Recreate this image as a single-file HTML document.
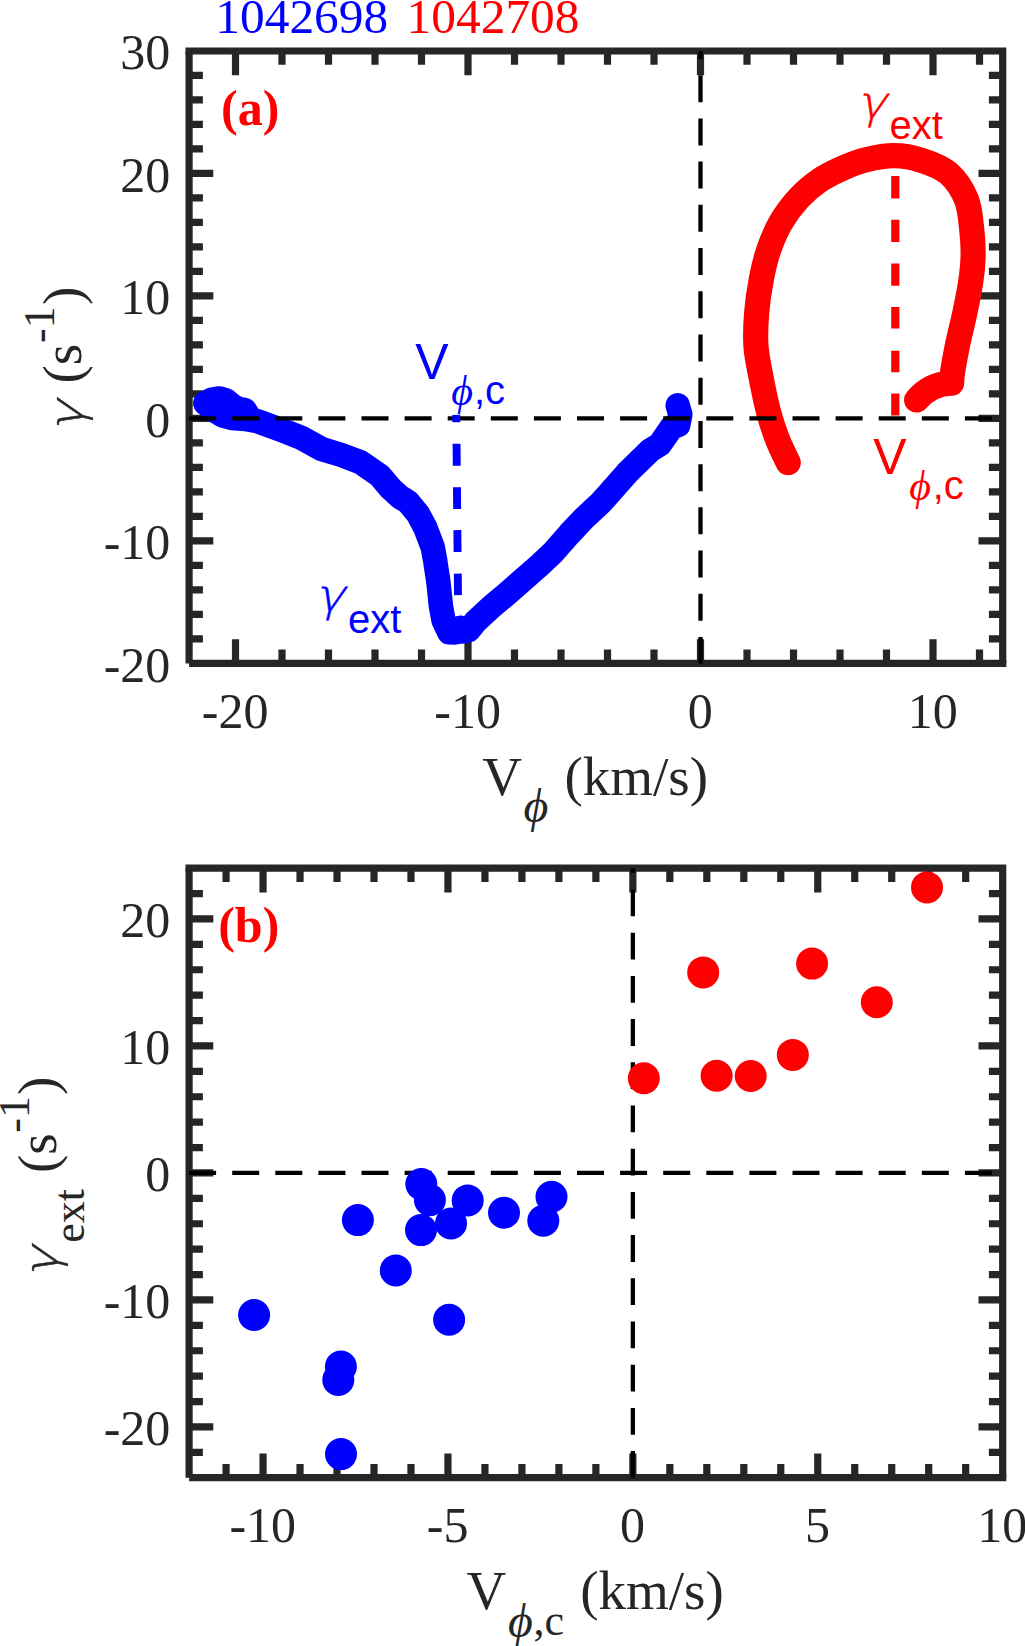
<!DOCTYPE html>
<html lang="en"><head><meta charset="utf-8"><title>Growth rate versus toroidal velocity</title>
<style>html,body{margin:0;padding:0;background:#fff}body{width:1025px;height:1646px;overflow:hidden}svg{display:block}text{font-family:"Liberation Serif", "DejaVu Serif", serif;fill:#262626}.s{font-family:"Liberation Sans", "DejaVu Sans", sans-serif}.g{font-family:"DejaVu Sans Light","DejaVu Sans",sans-serif}.b{fill:#0000ff}.r{fill:#ff0000}</style></head><body>
<svg width="1025" height="1646" viewBox="0 0 1025 1646">
<rect width="1025" height="1646" fill="#fff"/>
<g stroke="#262626" stroke-width="7.2" fill="none" stroke-linecap="butt" stroke-linejoin="miter">
<path d="M189.1 51V663.4"/>
<path d="M189.1 663.4H1006.3"/>
<path d="M185.5 51H1002.7V663.4"/>
<path d="M235.5 663.4v-24.2M235.5 51v24.2M468 663.4v-24.2M468 51v24.2M700.5 663.4v-24.2M700.5 51v24.2M933 663.4v-24.2M933 51v24.2M282 663.4v-13.8M282 51v13.8M328.5 663.4v-13.8M328.5 51v13.8M375 663.4v-13.8M375 51v13.8M421.5 663.4v-13.8M421.5 51v13.8M514.5 663.4v-13.8M514.5 51v13.8M561 663.4v-13.8M561 51v13.8M607.5 663.4v-13.8M607.5 51v13.8M654 663.4v-13.8M654 51v13.8M747 663.4v-13.8M747 51v13.8M793.5 663.4v-13.8M793.5 51v13.8M840 663.4v-13.8M840 51v13.8M886.5 663.4v-13.8M886.5 51v13.8M979.5 663.4v-13.8M979.5 51v13.8M189.1 173.4h24.2M1002.7 173.4h-24.2M189.1 295.9h24.2M1002.7 295.9h-24.2M189.1 418.4h24.2M1002.7 418.4h-24.2M189.1 540.9h24.2M1002.7 540.9h-24.2M189.1 638.9h13.8M1002.7 638.9h-13.8M189.1 614.4h13.8M1002.7 614.4h-13.8M189.1 589.9h13.8M1002.7 589.9h-13.8M189.1 565.4h13.8M1002.7 565.4h-13.8M189.1 516.4h13.8M1002.7 516.4h-13.8M189.1 491.9h13.8M1002.7 491.9h-13.8M189.1 467.4h13.8M1002.7 467.4h-13.8M189.1 442.9h13.8M1002.7 442.9h-13.8M189.1 393.9h13.8M1002.7 393.9h-13.8M189.1 369.4h13.8M1002.7 369.4h-13.8M189.1 344.9h13.8M1002.7 344.9h-13.8M189.1 320.4h13.8M1002.7 320.4h-13.8M189.1 271.4h13.8M1002.7 271.4h-13.8M189.1 246.9h13.8M1002.7 246.9h-13.8M189.1 222.4h13.8M1002.7 222.4h-13.8M189.1 197.9h13.8M1002.7 197.9h-13.8M189.1 148.9h13.8M1002.7 148.9h-13.8M189.1 124.4h13.8M1002.7 124.4h-13.8M189.1 99.9h13.8M1002.7 99.9h-13.8M189.1 75.4h13.8M1002.7 75.4h-13.8"/>
</g>
<path d="M205.5 403.1L212 399.6L219.5 398.4L226 400.5L232 405.5L238 408.8L244.7 410.1L250 418.5" fill="none" stroke="#0000ff" stroke-width="24.5" stroke-linecap="round" stroke-linejoin="round"/>
<path d="M205.5 403.1L213 409.5L222.5 415.4L231.8 418L245 419L257.6 421.2L278.7 428.9L302.1 438.2L321.6 449L341 454.9L360.5 462.2L380 475.8L390.7 488.5L400 497L408.3 502.2L418 514L425.3 527.6L432.7 547.1L435.1 560L438.6 583.4L441 606.8L443.5 620L449.2 632.2L455 632.6L460.5 627.8L462 631.5L468.5 630.3L475.6 621.5L491.2 607L506.8 594L522.4 580.2L538.1 566.6L553.7 551.8L569.3 534L584.9 517.4L600.5 503L607.3 495.5L628.8 471.2L650.2 450.4L659.9 444.4L671.7 427.2L678.2 425.1L680.3 414.3L677.7 405.3" fill="none" stroke="#0000ff" stroke-width="24.5" stroke-linecap="round" stroke-linejoin="round"/>
<path d="M788.2 462.6C786.47 458.87 781.03 448.48 777.8 440.2C774.57 431.92 771.77 424.27 768.8 412.9C765.83 401.53 762.15 383.32 760 372C757.85 360.68 756.45 354.93 755.9 345C755.35 335.07 755.8 323.35 756.7 312.4C757.6 301.45 759.33 289.62 761.3 279.3C763.27 268.98 765.28 259.9 768.5 250.5C771.72 241.1 775.55 231.6 780.6 222.9C785.65 214.2 792.25 205.42 798.8 198.3C805.35 191.18 812.57 185.23 819.9 180.2C827.23 175.17 835.08 171.5 842.8 168.1C850.52 164.7 857.68 161.87 866.2 159.8C874.72 157.73 884.73 155.63 893.9 155.7C903.07 155.77 912.1 157.27 921.2 160.2C930.3 163.13 940.98 166.8 948.5 173.3C956.02 179.8 962.43 189.87 966.3 199.2C970.17 208.53 970.57 219.73 971.7 229.3C972.83 238.87 973.32 247.5 973.1 256.6C972.88 265.7 971.82 274.33 970.4 283.9C968.98 293.47 966.73 303.88 964.6 314C962.47 324.12 959.6 334.95 957.6 344.6C955.6 354.25 953.6 365.47 952.6 371.9C951.6 378.33 951.77 381.32 951.6 383.2Q931 383.5 916.6 400" fill="none" stroke="#ff0000" stroke-width="25.2" stroke-linecap="round" stroke-linejoin="round"/>
<path d="M189.1 418.4H1002.7" stroke="#000" stroke-width="4.3" stroke-dasharray="27 16.1" fill="none"/>
<path d="M700.5 51V663.4" stroke="#000" stroke-width="4.3" stroke-dasharray="27 16.22" stroke-dashoffset="19.05" fill="none"/>
<path d="M456.27 414.9L456.34 422.3M456.54 443.7L456.75 465.7M456.96 487.2L457.16 509M457.36 530.1L457.57 552M457.78 573.6L457.98 595.1" stroke="#0000ff" stroke-width="7.9" fill="none"/>
<path d="M895.3 176L895.3 198.4M895.3 219.7L895.3 242.1M895.3 263.4L895.3 285.8M895.3 307L895.3 328.6M895.3 350.7L895.3 372.3M895.3 393.6L895.3 415.6" stroke="#ff0000" stroke-width="8.2" fill="none"/>
<text x="215.3" y="33.3" font-size="49.4" class="b" style="fill:#0000ff">1042698</text>
<text x="406.6" y="33.3" font-size="49.4" class="r" style="fill:#ff0000">1042708</text>
<text x="170.3" y="69.1" font-size="50" text-anchor="end">30</text>
<text x="170.3" y="191.6" font-size="50" text-anchor="end">20</text>
<text x="170.3" y="314.1" font-size="50" text-anchor="end">10</text>
<text x="170.3" y="436.6" font-size="50" text-anchor="end">0</text>
<text x="170.3" y="559.1" font-size="50" text-anchor="end">-10</text>
<text x="170.3" y="681.6" font-size="50" text-anchor="end">-20</text>
<text x="235.2" y="728.4" font-size="50" text-anchor="middle">-20</text>
<text x="467.7" y="728.4" font-size="50" text-anchor="middle">-10</text>
<text x="700.2" y="728.4" font-size="50" text-anchor="middle">0</text>
<text x="932.7" y="728.4" font-size="50" text-anchor="middle">10</text>
<text x="221" y="125" font-size="50" font-weight="bold" style="fill:#ff0000">(a)</text>
<text x="482.3" y="794.6" font-size="55">V</text>
<text x="523.5" y="821.8" font-size="48" font-style="italic">ϕ</text>
<text x="564.4" y="794.6" font-size="55">(km/s)</text>
<g transform="translate(81 426) rotate(-90)"><text transform="translate(0.8 -2.1) skewX(-14) scale(1.1 1.0)" x="-4.94" y="4.23" class="g" font-size="47.28" style="font-weight:200;fill:#262626;stroke:#262626;stroke-width:0.53px">γ</text><text x="42.5" y="0" font-size="55">(s</text><text x="83" y="-27.3" font-size="44">-1</text><text x="121" y="0" font-size="55">)</text></g>
<text class="s" x="415.2" y="378.5" font-size="50" style="fill:#0000ff">V</text>
<text x="451.3" y="405" font-size="42" font-style="italic" style="fill:#0000ff">ϕ</text>
<text class="s" x="474" y="403.8" font-size="40" style="fill:#0000ff">,c</text>
<text transform="translate(321.7 607.3) skewX(-14) scale(1.1 1.0)" x="-4.89" y="3.98" class="g" font-size="44.5" style="font-weight:200;fill:#0000ff;stroke:#0000ff;stroke-width:0.5px">γ</text>
<text class="s" x="348" y="632.6" font-size="40" style="fill:#0000ff">ext</text>
<text transform="translate(863.5 113.8) skewX(-14) scale(1.1 1.0)" x="-4.89" y="3.98" class="g" font-size="44.5" style="font-weight:200;fill:#ff0000;stroke:#ff0000;stroke-width:0.5px">γ</text>
<text class="s" x="889.5" y="139.1" font-size="40" style="fill:#ff0000">ext</text>
<text class="s" x="873.2" y="473.9" font-size="50" style="fill:#ff0000">V</text>
<text x="909.2" y="499.9" font-size="42" font-style="italic" style="fill:#ff0000">ϕ</text>
<text class="s" x="932.7" y="498.7" font-size="40" style="fill:#ff0000">,c</text>
<g stroke="#262626" stroke-width="7.2" fill="none" stroke-linecap="butt" stroke-linejoin="miter">
<path d="M189.1 868.2V1477.7"/>
<path d="M189.1 1477.7H1006.3"/>
<path d="M185.5 868.2H1002.7V1477.7"/>
<path d="M263.06 1477.7v-24.2M263.06 868.2v24.2M447.96 1477.7v-24.2M447.96 868.2v24.2M632.86 1477.7v-24.2M632.86 868.2v24.2M817.76 1477.7v-24.2M817.76 868.2v24.2M226.08 1477.7v-13.8M226.08 868.2v13.8M300.04 1477.7v-13.8M300.04 868.2v13.8M337.02 1477.7v-13.8M337.02 868.2v13.8M374 1477.7v-13.8M374 868.2v13.8M410.98 1477.7v-13.8M410.98 868.2v13.8M484.94 1477.7v-13.8M484.94 868.2v13.8M521.92 1477.7v-13.8M521.92 868.2v13.8M558.9 1477.7v-13.8M558.9 868.2v13.8M595.88 1477.7v-13.8M595.88 868.2v13.8M669.84 1477.7v-13.8M669.84 868.2v13.8M706.82 1477.7v-13.8M706.82 868.2v13.8M743.8 1477.7v-13.8M743.8 868.2v13.8M780.78 1477.7v-13.8M780.78 868.2v13.8M854.74 1477.7v-13.8M854.74 868.2v13.8M891.72 1477.7v-13.8M891.72 868.2v13.8M928.7 1477.7v-13.8M928.7 868.2v13.8M965.68 1477.7v-13.8M965.68 868.2v13.8M189.1 918.95h24.2M1002.7 918.95h-24.2M189.1 1045.95h24.2M1002.7 1045.95h-24.2M189.1 1172.95h24.2M1002.7 1172.95h-24.2M189.1 1299.95h24.2M1002.7 1299.95h-24.2M189.1 1426.95h24.2M1002.7 1426.95h-24.2M189.1 1452.35h13.8M1002.7 1452.35h-13.8M189.1 1401.55h13.8M1002.7 1401.55h-13.8M189.1 1376.15h13.8M1002.7 1376.15h-13.8M189.1 1350.75h13.8M1002.7 1350.75h-13.8M189.1 1325.35h13.8M1002.7 1325.35h-13.8M189.1 1274.55h13.8M1002.7 1274.55h-13.8M189.1 1249.15h13.8M1002.7 1249.15h-13.8M189.1 1223.75h13.8M1002.7 1223.75h-13.8M189.1 1198.35h13.8M1002.7 1198.35h-13.8M189.1 1147.55h13.8M1002.7 1147.55h-13.8M189.1 1122.15h13.8M1002.7 1122.15h-13.8M189.1 1096.75h13.8M1002.7 1096.75h-13.8M189.1 1071.35h13.8M1002.7 1071.35h-13.8M189.1 1020.55h13.8M1002.7 1020.55h-13.8M189.1 995.15h13.8M1002.7 995.15h-13.8M189.1 969.75h13.8M1002.7 969.75h-13.8M189.1 944.35h13.8M1002.7 944.35h-13.8M189.1 893.55h13.8M1002.7 893.55h-13.8"/>
</g>
<path d="M189.1 1172.95H1002.7" stroke="#000" stroke-width="4.3" stroke-dasharray="27 16.1" fill="none"/>
<path d="M632.86 868.2V1477.7" stroke="#000" stroke-width="4.3" stroke-dasharray="26.8 16.4" stroke-dashoffset="21.9" fill="none"/>
<g fill="#0000ff"><circle cx="421.3" cy="1184.1" r="16.0"/><circle cx="429.9" cy="1200.1" r="16.0"/><circle cx="467.7" cy="1200.4" r="16.0"/><circle cx="551.5" cy="1196.7" r="16.0"/><circle cx="357.9" cy="1220.1" r="16.0"/><circle cx="421" cy="1230.1" r="16.0"/><circle cx="451" cy="1223.4" r="16.0"/><circle cx="504" cy="1212.7" r="16.0"/><circle cx="543.3" cy="1220.8" r="16.0"/><circle cx="395.8" cy="1270.5" r="16.0"/><circle cx="254.1" cy="1315" r="16.0"/><circle cx="449.1" cy="1319.8" r="16.0"/><circle cx="340.9" cy="1366.5" r="16.0"/><circle cx="338.3" cy="1379.9" r="16.0"/><circle cx="341" cy="1454.1" r="16.0"/></g>
<g fill="#ff0000"><circle cx="927" cy="887.4" r="16.0"/><circle cx="703.2" cy="972.4" r="16.0"/><circle cx="812.1" cy="963.6" r="16.0"/><circle cx="876.8" cy="1002.3" r="16.0"/><circle cx="792.8" cy="1054.9" r="16.0"/><circle cx="643.8" cy="1078.3" r="16.0"/><circle cx="716.6" cy="1075.7" r="16.0"/><circle cx="750.7" cy="1076" r="16.0"/></g>
<text x="170.3" y="937.15" font-size="50" text-anchor="end">20</text>
<text x="170.3" y="1064.15" font-size="50" text-anchor="end">10</text>
<text x="170.3" y="1191.15" font-size="50" text-anchor="end">0</text>
<text x="170.3" y="1318.15" font-size="50" text-anchor="end">-10</text>
<text x="170.3" y="1445.15" font-size="50" text-anchor="end">-20</text>
<text x="262.76" y="1542" font-size="50" text-anchor="middle">-10</text>
<text x="447.66" y="1542" font-size="50" text-anchor="middle">-5</text>
<text x="632.56" y="1542" font-size="50" text-anchor="middle">0</text>
<text x="817.46" y="1542" font-size="50" text-anchor="middle">5</text>
<text x="1002.36" y="1542" font-size="50" text-anchor="middle">10</text>
<text x="218.2" y="942.3" font-size="50" font-weight="bold" style="fill:#ff0000">(b)</text>
<text x="466.5" y="1609.3" font-size="55">V</text>
<text x="508" y="1636.6" font-size="48" font-style="italic">ϕ</text>
<text x="533.4" y="1635.2" font-size="44">,c</text>
<text x="580.2" y="1609.3" font-size="55">(km/s)</text>
<g transform="translate(56.1 1272) rotate(-90)"><text transform="translate(0.8 -2.1) skewX(-14) scale(1.1 1.0)" x="-4.94" y="4.23" class="g" font-size="47.28" style="font-weight:200;fill:#262626;stroke:#262626;stroke-width:0.53px">γ</text><text x="29.3" y="27.7" font-size="44">ext</text><text x="99" y="0" font-size="55">(s</text><text x="139.3" y="-26.9" font-size="44">-1</text><text x="177" y="0" font-size="55">)</text></g>
</svg></body></html>
